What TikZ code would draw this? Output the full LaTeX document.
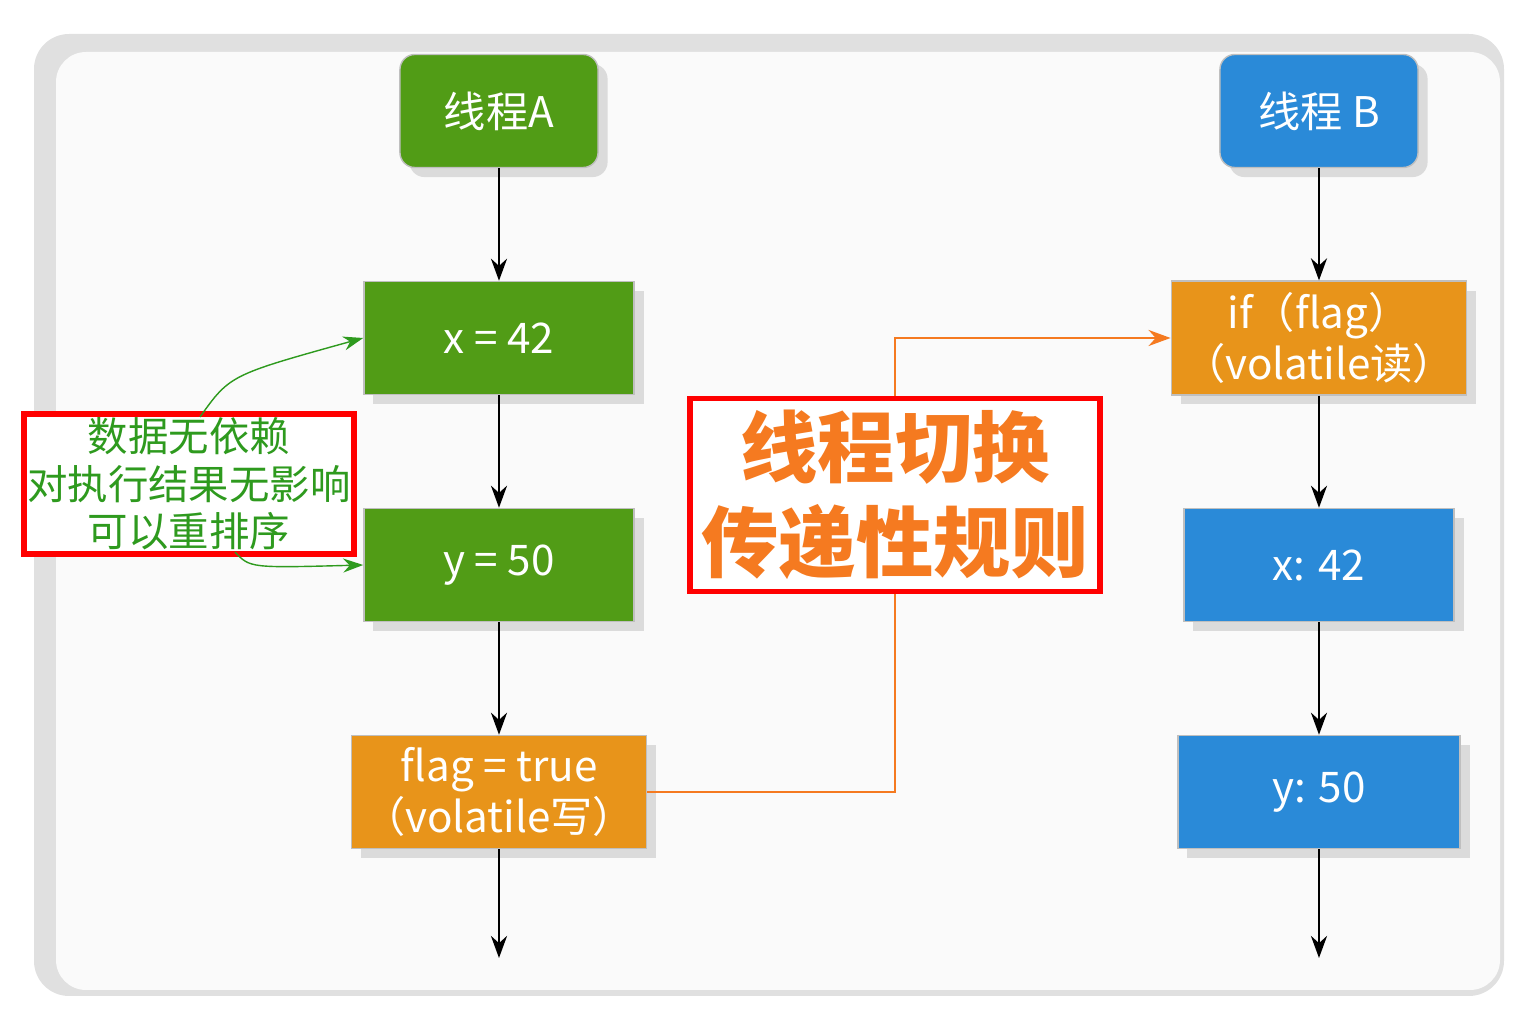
\documentclass[tikz,border=0pt]{standalone}
\usepackage{fontspec}
\setmainfont{Noto Sans CJK SC}
\usetikzlibrary{positioning, arrows.meta, shadows}

\definecolor{stepgreen}{HTML}{519C16}
\definecolor{stepblue}{HTML}{2A8AD8}
\definecolor{steporange}{HTML}{E8941A}
\definecolor{switchorange}{HTML}{F57A20}
\definecolor{notegreen}{HTML}{2E9A1E}

\tikzset{
  stepbox/.style={draw=black!25, minimum width=2.7cm, minimum height=1.13cm, text=white,
    font=\fontsize{12}{13}\selectfont, align=center, drop shadow={opacity=0.25}},
  headbox/.style={stepbox, rounded corners=0.15cm, minimum width=1.98cm},
  flow/.style={-{Stealth[length=0.22cm, width=0.16cm]}, thick},
  note/.style={draw=red, line width=1.6pt, fill=white, align=center}
}

\begin{document}
\begin{tikzpicture}[x=0.01cm, y=-0.01cm]
      \useasboundingbox (0, 0) rectangle (1538, 1028);
      \fill[black!12, rounded corners=0.35cm] (34, 34) rectangle (1504, 996);
      \fill[black!2, rounded corners=0.3cm] (56, 52) rectangle (1500, 990);
      % thread A
      \node[headbox, fill=stepgreen]                        (threadA) at (499, 111) {线程A};
      \node[stepbox, fill=stepgreen]                        (setX)    at (499, 338) {x = 42};
      \node[stepbox, fill=stepgreen]                        (setY)    at (499, 565) {y = 50};
      \node[stepbox, fill=steporange, minimum width=2.82cm] (writeFlag) at (499, 792) {flag = true\\（volatile写）};
      \coordinate (endA) at (499, 958);
      \draw[flow] (threadA) -- (setX);
      \draw[flow] (setX) -- (setY);
      \draw[flow] (setY) -- (writeFlag);
      \draw[flow] (writeFlag) -- (endA);
      % thread B
      \node[headbox, fill=stepblue]                        (threadB)  at (1319, 111) {线程 B};
      \node[stepbox, fill=steporange]                      (readFlag) at (1319, 338) {if（flag）\\（volatile读）};
      \node[stepbox, fill=stepblue]                        (getX)     at (1319, 565) {x: 42};
      \node[stepbox, fill=stepblue, minimum width=2.82cm]  (getY)     at (1319, 792) {y: 50};
      \coordinate (endB) at (1319, 958);
      \draw[flow] (threadB) -- (readFlag);
      \draw[flow] (readFlag) -- (getX);
      \draw[flow] (getX) -- (getY);
      \draw[flow] (getY) -- (endB);
      % switch between threads
      \draw[switchorange, thick, -{Stealth[length=0.22cm, width=0.16cm]}]
        (writeFlag.east) -| (895, 338) -- (readFlag.west);
      \node[note, minimum width=3.06cm, minimum height=1.58cm, text=switchorange,
            font=\fontsize{22}{27}\selectfont\bfseries] (switchNote) at (895, 495) {线程切换\\传递性规则};
      % reordering note
      \node[note, minimum width=2.76cm, minimum height=1.32cm, inner sep=1pt, text=notegreen,
            font=\fontsize{11.5}{13.5}\selectfont] (reorderNote) at (189, 484) {数据无依赖\\对执行结果无影响\\可以重排序};
      \draw[notegreen, -{Stealth[length=0.2cm, width=0.14cm]}]
        (200, 417) .. controls (230, 375) .. (setX.west);
      \draw[notegreen, -{Stealth[length=0.2cm, width=0.14cm]}]
        (235, 552) .. controls (250, 568) .. (setY.west);
    \end{tikzpicture}
\end{document}
